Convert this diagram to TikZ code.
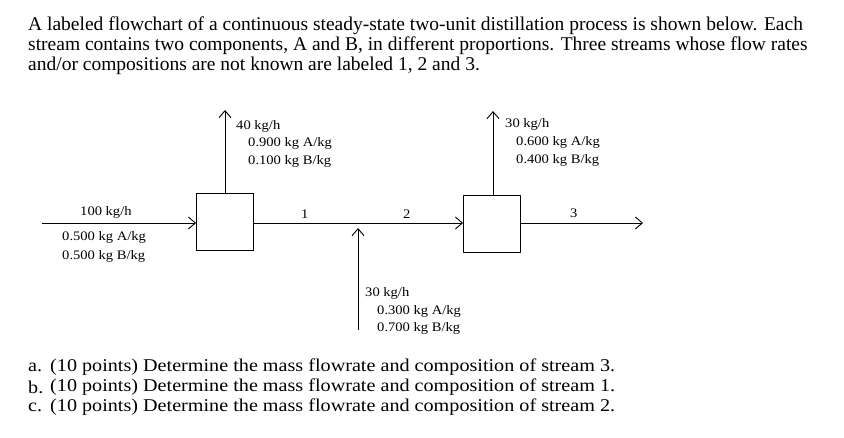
\documentclass[tikz,border=0pt]{standalone}
\usepackage{fontspec}
\setmainfont{Liberation Serif}
\usetikzlibrary{arrows.meta}
\begin{document}
\begin{tikzpicture}[x=1pt,y=-1pt,
  unitbox/.style={draw,minimum width=57pt,minimum height=57pt,inner sep=0pt,line width=0.9pt},
  flow/.style={-{Straight Barb[length=7pt,width=12pt]},line width=0.9pt},
  lbl/.style={font=\fontsize{13}{14}\selectfont,inner sep=0pt,anchor=west,align=left,xscale=1.12},
  txt/.style={font=\fontsize{19.5}{20}\selectfont,inner sep=0pt,anchor=north west,align=left},
  qtxt/.style={font=\fontsize{18}{18}\selectfont,inner sep=0pt,anchor=west,align=left,xscale=1.12}]
\useasboundingbox[fill=white] (0,0) rectangle (844,438);
\node[txt] (intro) at (28,17) {A labeled flowchart of a continuous steady-state two-unit distillation process is shown below. Each\\stream contains two components, A and B, in different proportions. Three streams whose flow rates\\and/or compositions are not known are labeled 1, 2 and 3.};
\node[unitbox] (u1) at (225,222) {};
\node[unitbox] (u2) at (492,224) {};
\coordinate (fin) at (42,223);
\coordinate (out3) at (643,223);
\coordinate (top1) at (225,110);
\coordinate (top2) at (493,111);
\coordinate (bot) at (358,330);
\coordinate (mix) at (358,228);
\draw[flow] (fin) -- (fin -| u1.west);
\draw[flow] (u1.east |- fin) -- (fin -| u2.west);
\draw[flow] (fin -| u2.east) -- (out3);
\draw[flow] (u1.north) -- (top1);
\draw[flow] (u2.north -| top2) -- (top2);
\draw[flow] (bot) -- (mix);
\node[lbl] (l1) at (301,214) {1};
\node[lbl] (l2) at (403,214) {2};
\node[lbl] (l3) at (570,213) {3};
\node[lbl] (f1) at (80,212) {100 kg/h};
\node[lbl] (f2) at (62,237) {0.500 kg A/kg};
\node[lbl] (f3) at (62,256) {0.500 kg B/kg};
\node[lbl] (t1) at (236,126) {40 kg/h};
\node[lbl] (t2) at (248,143) {0.900 kg A/kg};
\node[lbl] (t3) at (248,161) {0.100 kg B/kg};
\node[lbl] (s1) at (505,124) {30 kg/h};
\node[lbl] (s2) at (516,142) {0.600 kg A/kg};
\node[lbl] (s3) at (516,160) {0.400 kg B/kg};
\node[lbl] (b1) at (365,293) {30 kg/h};
\node[lbl] (b2) at (377,311) {0.300 kg A/kg};
\node[lbl] (b3) at (377,328) {0.700 kg B/kg};
\node[qtxt] (qa) at (28,367) {a.};
\node[qtxt] (qb) at (28,387) {b.};
\node[qtxt] (qc) at (28,407) {c.};
\node[qtxt] (qa2) at (50,367) {(10 points) Determine the mass flowrate and composition of stream 3.};
\node[qtxt] (qb2) at (50,387) {(10 points) Determine the mass flowrate and composition of stream 1.};
\node[qtxt] (qc2) at (50,407) {(10 points) Determine the mass flowrate and composition of stream 2.};
\end{tikzpicture}
\end{document}
